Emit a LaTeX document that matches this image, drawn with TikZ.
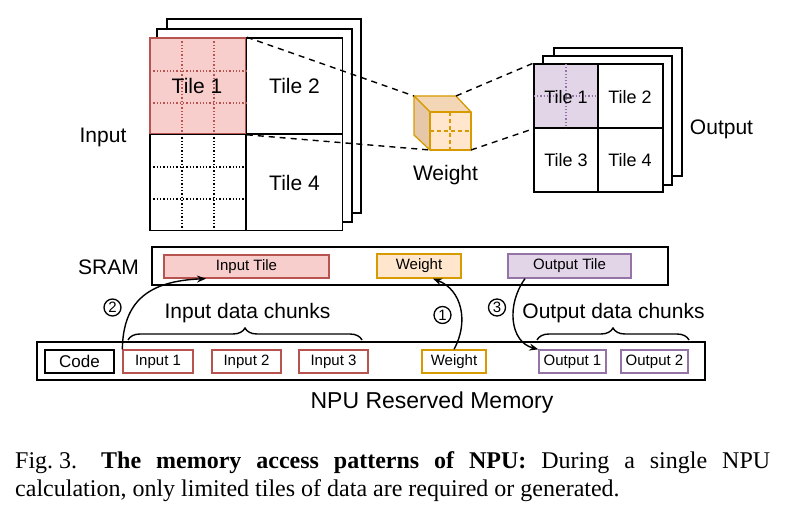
\documentclass[tikz,border=0pt]{standalone}
\usepackage{fontspec}
\setmainfont{Liberation Sans}
\newfontfamily\capfont{Liberation Serif}
\usetikzlibrary{decorations.pathreplacing,arrows.meta}
\definecolor{inred}{HTML}{B85450}
\definecolor{inredfill}{HTML}{F8CECC}
\definecolor{wor}{HTML}{D79B00}
\definecolor{worfill}{HTML}{FFE6CC}
\definecolor{wortop}{HTML}{F3D6B6}
\definecolor{worleft}{HTML}{E6C7A8}
\definecolor{outp}{HTML}{9673A6}
\definecolor{outpfill}{HTML}{E1D5E7}
\begin{document}
\begin{tikzpicture}[x=1pt,y=-1pt,
  fnt/.style={font=\fontsize{#1}{#1}\selectfont},
  lbl/.style={inner sep=0pt, fnt=21},
  layer/.style={draw, line width=1.6pt, fill=white},
  tilebox/.style={draw, line width=1.6pt, inner sep=0pt, minimum size=#1, fill=white},
  membox/.style={draw, line width=1.8pt, inner sep=0pt, minimum height=38pt},
  smallbox/.style={draw, line width=1.3pt, inner sep=0pt, minimum height=23pt, fnt=15, fill=white},
  inbox/.style={smallbox, draw=inred},
  wbox/.style={smallbox, draw=wor},
  obox/.style={smallbox, draw=outp},
  conn/.style={dashed, line width=1.4pt, dash pattern=on 6pt off 5pt},
  flow/.style={line width=1.4pt, -{Stealth[length=9pt,width=7pt]}},
  num/.style={draw, circle, line width=1.3pt, minimum size=17pt, inner sep=0pt, fnt=15},
  chunkbrace/.style={decorate, decoration={brace, amplitude=12pt}, line width=1.4pt}
]
\useasboundingbox (0,0) rectangle (792,505);

% ---------- Input stack ----------
\draw[layer] (167,19) rectangle (361,213);
\draw[layer] (157,29) rectangle (352,222);
\node[tilebox=96pt, fill=inredfill, draw=inred] (it1) at (198,86) {};
\node[tilebox=96pt] (it2) at (294.5,86) {};
\node[tilebox=96pt] (it3) at (198,182.5) {};
\node[tilebox=96pt] (it4) at (294.5,182.5) {};
\draw[inred, dotted, line width=1.3pt] (182,38) -- (182,134) (214,38) -- (214,134)
  (150,71) -- (246,71) (150,103) -- (246,103);
\draw[black, dotted, line width=1.3pt] (182,134) -- (182,231) (214,134) -- (214,231)
  (150,167) -- (246,167) (150,199) -- (246,199);
\draw[inred, line width=1.6pt] (150,134) -- (150,38) -- (246,38);
\node[lbl] at (197,86) {Tile 1};
\node[lbl] at (294.5,86) {Tile 2};
\node[lbl] at (294.5,183) {Tile 4};
\node[lbl] (inlbl) at (103,137) {Input};

% ---------- Weight cube ----------
\coordinate (cA) at (414,96);
\coordinate (cB) at (456,96);
\coordinate (cC) at (471,112);
\coordinate (cD) at (430,112);
\coordinate (cE) at (430,150);
\coordinate (cF) at (471,150);
\coordinate (cG) at (414,135);
\draw[wor, line width=1.3pt, fill=wortop, line join=round] (cA) -- (cB) -- (cC) -- (cD) -- cycle;
\draw[wor, line width=1.3pt, fill=worleft, line join=round] (cA) -- (cD) -- (cE) -- (cG) -- cycle;
\draw[wor, line width=1.3pt, fill=worfill, line join=round] (cD) -- (cC) -- (cF) -- (cE) -- cycle;
\draw[wor, dashed, line width=1.1pt, dash pattern=on 4pt off 3pt] (450,112) -- (450,150) (430,131) -- (471,131);
\node[lbl] (wlbl) at (445.5,175) {Weight};

% ---------- Output stack ----------
\draw[layer] (554,48) rectangle (682,176);
\draw[layer] (543,56) rectangle (672,185);
\node[tilebox=64pt, fill=outpfill] (ot1) at (566,96) {};
\node[tilebox=64pt, minimum width=65pt] (ot2) at (630.5,96) {};
\node[tilebox=64pt] (ot3) at (566,160) {};
\node[tilebox=64pt, minimum width=65pt] (ot4) at (630.5,160) {};
\draw[outp, dotted, line width=1.2pt] (566,64) -- (566,128) (534,96) -- (598,96);
\node[inner sep=0pt, fnt=18] at (566,97) {Tile 1};
\node[inner sep=0pt, fnt=18] at (630,97) {Tile 2};
\node[inner sep=0pt, fnt=18] at (566,160.5) {Tile 3};
\node[inner sep=0pt, fnt=18] at (630,160.5) {Tile 4};
\node[lbl] (outlbl) at (721.5,129) {Output};

% ---------- dashed projections ----------
\draw[conn] (it1.north east) -- (cA);
\draw[conn] (it1.south east) -- (cE);
\draw[conn] (cB) -- (ot1.north west);
\draw[conn] (cF) -- (ot1.south west);

% ---------- SRAM ----------
\node[lbl] (sramlbl) at (108.5,267) {SRAM};
\node[membox, minimum width=516pt] (sram) at (410,266) {};
\node[inbox, fill=inredfill, minimum width=165pt] (sit) at (246.5,266.5) {Input Tile};
\node[wbox, fill=worfill, minimum width=84pt, minimum height=24pt] (sw) at (419,266) {Weight};
\node[obox, fill=outpfill, minimum width=123pt, minimum height=24pt] (sot) at (569.5,266) {Output Tile};

% ---------- NPU reserved memory ----------
\node[membox, minimum width=668pt] (mem) at (371,361) {};
\node[smallbox, line width=1.6pt, fnt=17, minimum width=69pt] (code) at (79.5,361.5) {Code};
\node[inbox, minimum width=70pt] (in1) at (158,361.5) {Input 1};
\node[inbox, minimum width=69pt] (in2) at (246.5,361.5) {Input 2};
\node[inbox, minimum width=69pt] (in3) at (333.5,361.5) {Input 3};
\node[wbox, minimum width=64pt] (mw) at (454,361.5) {Weight};
\node[obox, minimum width=67pt] (out1) at (572.5,361.5) {Output 1};
\node[obox, minimum width=67pt] (out2) at (654.5,361.5) {Output 2};
\node[inner sep=0pt, fnt=23] (memlbl) at (432,403) {NPU Reserved Memory};

% ---------- braces ----------
\coordinate (ib1) at (128,340);
\coordinate (ib2) at (362,340);
\coordinate (ob1) at (537,340);
\coordinate (ob2) at (689,340);
\draw[chunkbrace] (ib1) -- (ib2);
\draw[chunkbrace] (ob1) -- (ob2);
\node[lbl] (inchunks) at (247.5,313) {Input data chunks};
\node[lbl] (outchunks) at (613.5,313) {Output data chunks};

% ---------- data movement ----------
\draw[flow] (in1.north west) .. controls (123,300) and (150,281) .. (sit.south west -| 206,0);
\draw[flow] (mw.north) .. controls (469,322) and (462,290) .. (sw.south -| 433,0);
\draw[flow] (sot.south -| 525,0) .. controls (506,305) and (510,342) .. (out1.north west);
\node[num] (n2) at (112.5,307.5) {2};
\node[num] (n1) at (442.5,315) {1};
\node[num] (n3) at (497,307.5) {3};

% ---------- caption ----------
\node[anchor=base west, inner sep=0pt, font=\capfont\fontsize{24}{28}\selectfont] (cap1) at (15,468)
  {\makebox[755pt][s]{\mbox{Fig.~3.}\kern 24pt\textbf{The memory access patterns of NPU:} During a single NPU}};
\node[anchor=base west, inner sep=0pt, font=\capfont\fontsize{24}{28}\selectfont] (cap2) at (15,496)
  {calculation, only limited tiles of data are required or generated.};
\end{tikzpicture}
\end{document}
